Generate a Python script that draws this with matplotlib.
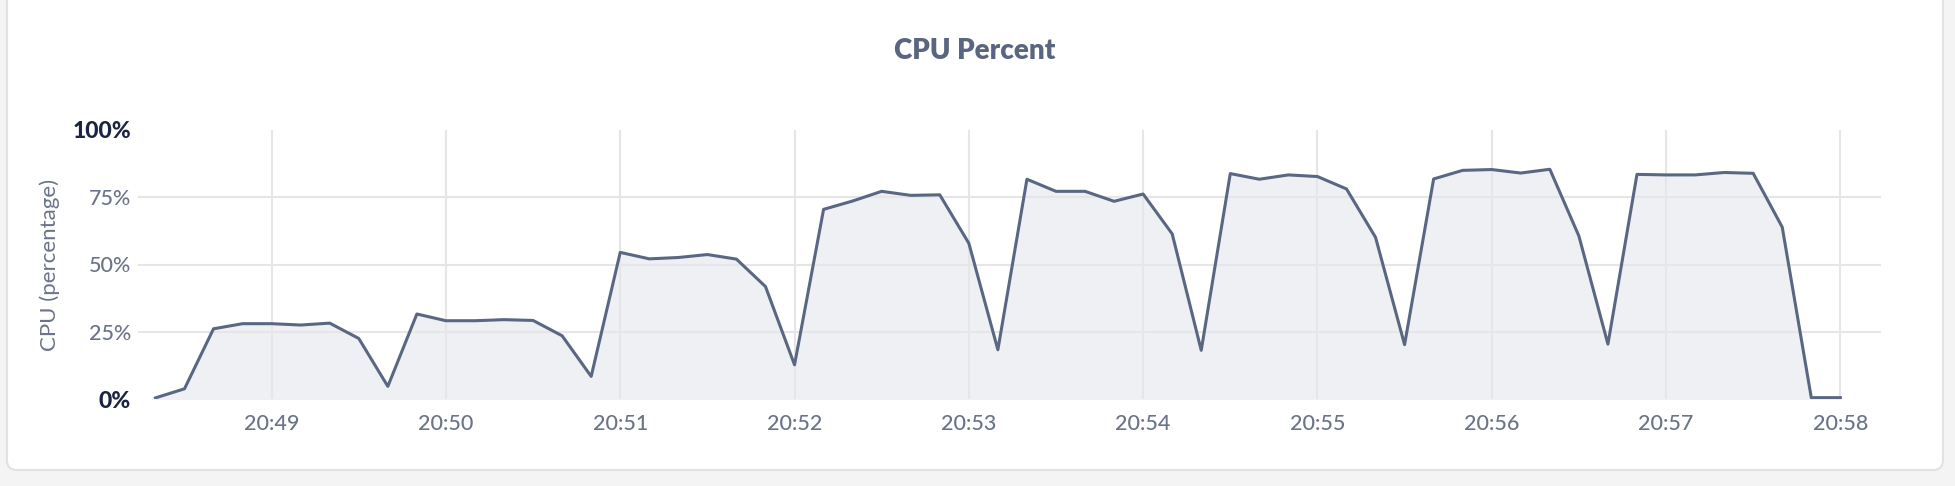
import matplotlib
matplotlib.use("Agg")
import matplotlib.pyplot as plt
import matplotlib.dates as mdates
from matplotlib.patches import FancyBboxPatch
import pandas as pd

# cpu samples, one every 10 s starting 20:48:20
cpu = [0.4, 3.8, 26.1, 28.0, 28.0, 27.5, 28.2, 22.5, 4.7, 31.6,
       29.1, 29.1, 29.5, 29.2, 23.5, 8.4, 54.5, 52.1, 52.6, 53.7,
       52.0, 41.8, 12.7, 70.5, 73.6, 77.2, 75.7, 75.9, 57.9, 18.3,
       81.7, 77.2, 77.2, 73.5, 76.2, 61.4, 18.1, 83.8, 81.7, 83.3,
       82.7, 78.1, 60.1, 20.2, 81.8, 85.0, 85.3, 84.0, 85.4, 60.6,
       20.4, 83.5, 83.3, 83.3, 84.2, 83.9, 63.9, 0.5, 0.5]
start_time = "2020-01-01 20:48:20"
x_from = "2020-01-01 20:48:14"
x_to = "2020-01-01 20:58:14"
y_ticks = [0, 25, 50, 75, 100]
y_labels = ["0%", "25%", "50%", "75%", "100%"]

times = pd.date_range(start_time, periods=len(cpu), freq="10s")

line_col = "#5a6782"
fill_col = "#eef0f4"
grid_col = "#e6e6e8"
text_col = "#6b7389"
dark_col = "#1b2440"

plt.rcParams['font.family'] = ['Lato', 'DejaVu Sans']
plt.rcParams['font.weight'] = 500

fig = plt.figure(figsize=(19.56, 4.86), dpi=100)
fig.patch.set_facecolor("#f4f4f4")

# white card behind the plot
card = FancyBboxPatch((7 / 1956, 16 / 486), 1936 / 1956, 480 / 486,
                      boxstyle="round,pad=0,rounding_size=0.005",
                      transform=fig.transFigure, facecolor="white",
                      edgecolor="#e2e2e2", linewidth=1.5,
                      mutation_aspect=1956 / 486, zorder=-10)
fig.patches.append(card)

ax = fig.add_axes([138 / 1956, 1 - 399 / 486, 1743 / 1956, 269 / 486])
ax.set_facecolor("none")
ax.set_zorder(1)

ax.fill_between(times, cpu, 0, color=fill_col, zorder=1)
ax.plot(times, cpu, color=line_col, linewidth=2.2, zorder=3)

ax.set_xlim(pd.Timestamp(x_from), pd.Timestamp(x_to))
ax.set_ylim(0, 100)

ax.xaxis.set_major_locator(mdates.MinuteLocator())
ax.xaxis.set_major_formatter(mdates.DateFormatter("%H:%M"))
ax.set_yticks(y_ticks)
ax.set_yticklabels(y_labels)

ax.grid(axis="x", color=grid_col, linewidth=1.5, zorder=2)
for v in y_ticks[1:-1]:
    ax.axhline(v, color=grid_col, linewidth=1.5, zorder=2)

for s in ax.spines.values():
    s.set_visible(False)
ax.tick_params(axis="both", length=0, labelsize=15.5, colors=text_col)
ax.tick_params(axis="x", pad=11)
ax.tick_params(axis="y", pad=5)
for lab in ax.get_yticklabels():
    if lab.get_text() in ("0%", "100%"):
        lab.set_color(dark_col)
        lab.set_fontweight(900)
        lab.set_fontsize(16.5)

ax.set_ylabel("CPU (percentage)", fontsize=16, color=text_col)
ax.yaxis.set_label_coords(-0.045, 0.5)

fig.text(975 / 1956, 1 - 51 / 486, "CPU Percent", ha="center", va="center",
         fontsize=20, fontweight=800, color="#5a6580")

fig.savefig("out.png", dpi=100, facecolor=fig.get_facecolor())
